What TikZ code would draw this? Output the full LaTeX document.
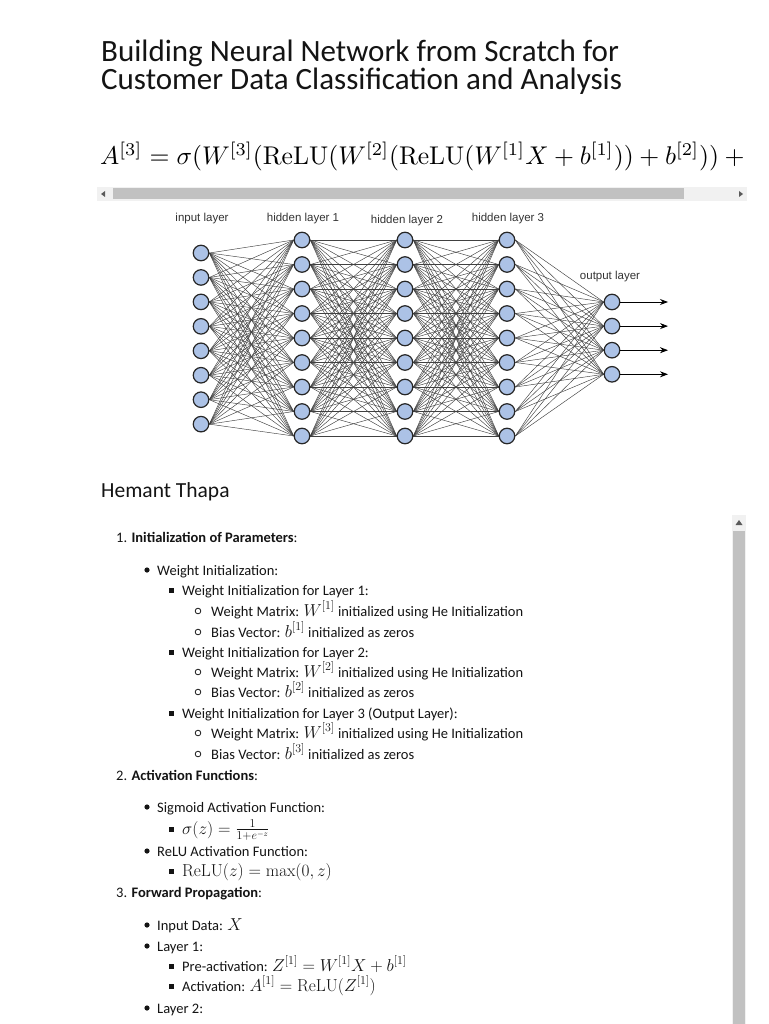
\documentclass[tikz,border=0pt]{standalone}
\usepackage{amsmath}
\usepackage[no-math]{fontspec}
\usepackage{graphicx}
\setmainfont{Carlito}
\newfontfamily\helv{Liberation Sans}
\usetikzlibrary{backgrounds,arrows.meta}
\definecolor{nblue}{RGB}{172,194,230}
\definecolor{txtc}{RGB}{20,20,20}
\definecolor{sbtrack}{RGB}{241,241,241}
\definecolor{sbthumb}{RGB}{193,193,193}
\definecolor{sbarrow}{RGB}{90,90,90}
\newcommand\mm[1]{{\fontsize{16.5}{18}\selectfont$#1$}}
\begin{document}
\begin{tikzpicture}[x=1pt,y=-1pt,
  neuron/.style={circle,draw=black!85,line width=1.2pt,fill=nblue,minimum size=15.5pt,inner sep=0pt},
  edge/.style={draw=black!75,line width=0.45pt},
  outarrow/.style={draw=black,line width=0.9pt,-{Stealth[length=8pt,width=6pt]}},
  lbl/.style={anchor=base,inner sep=0pt,font=\helv\fontsize{11.5}{13}\selectfont,text=black!80},
  title/.style={anchor=base west,inner sep=0pt,font=\fontsize{31}{34}\selectfont,text=txtc},
  txt/.style={anchor=base west,inner sep=0pt,font=\fontsize{14.5}{16}\selectfont,text=txtc},
  dotb/.style={fill=txtc},
  sqb/.style={fill=txtc},
  circb/.style={draw=txtc,line width=0.8pt}]
\useasboundingbox (0,0) rectangle (768,1024);

% title
\node[title] (t1) at (101,61.5) {Building Neural Network from Scratch for};
\node[title] (t2) at (101,90) {Customer Data Classification and Analysis};

% formula
\begin{scope}
\clip (96,120) rectangle (748,182);
\node[anchor=base west,inner sep=0pt] (eq) at (100,165) {\resizebox{650pt}{!}{$A^{[3]} = \sigma(W^{[3]}(\mathrm{ReLU}(W^{[2]}(\mathrm{ReLU}(W^{[1]}X + b^{[1]})) + b^{[2]})) +{}$}};
\end{scope}

% horizontal scrollbar
\fill[sbtrack] (97,187) rectangle (747,201);
\fill[sbthumb] (113,188.5) rectangle (684,199.5);
\fill[sbarrow] (101,194) -- (105,191) -- (105,197) -- cycle;
\fill[sbarrow] (743,194) -- (739,191) -- (739,197) -- cycle;

% network
\foreach \k in {1,...,8} \node[neuron] (i\k) at (201,{253+24.45*(\k-1)}) {};
\foreach \k in {1,...,9} {
  \node[neuron] (a\k) at (302,{240+24.5*(\k-1)}) {};
  \node[neuron] (b\k) at (405,{240+24.5*(\k-1)}) {};
  \node[neuron] (c\k) at (507,{240+24.5*(\k-1)}) {};
}
\foreach \k in {1,...,4} \node[neuron] (o\k) at (612,{302+24.1*(\k-1)}) {};
\begin{scope}[on background layer]
\fill[white] (0,0) rectangle (768,1024);
\foreach \i in {1,...,8} \foreach \j in {1,...,9} \draw[edge] (i\i.east) -- (a\j.west);
\foreach \i in {1,...,9} \foreach \j in {1,...,9} {
  \draw[edge] (a\i.east) -- (b\j.west);
  \draw[edge] (b\i.east) -- (c\j.west);
}
\foreach \i in {1,...,9} \foreach \j in {1,...,4} \draw[edge] (c\i.east) -- (o\j.west);
\end{scope}
\foreach \k in {1,...,4} {
  \coordinate (e\k) at (668,{302+24.1*(\k-1)});
  \draw[outarrow] (o\k.east) -- (e\k);
}
\node[lbl] (l0) at (202,222) {input layer};
\node[lbl] (l1) at (303,222) {hidden layer 1};
\node[lbl] (l2) at (407,223) {hidden layer 2};
\node[lbl] (l3) at (508,222) {hidden layer 3};
\node[lbl] (l4) at (610,279) {output layer};

% author
\node[anchor=base west,inner sep=0pt,font=\fontsize{21.5}{24}\selectfont,text=txtc] (au) at (101,497) {Hemant Thapa};

% vertical scrollbar
\fill[sbtrack] (732,515) rectangle (746,1024);
\fill[sbthumb] (733,531) rectangle (745,1024);
\fill[sbarrow] (739,520) -- (742.5,525) -- (735.5,525) -- cycle;

% list
\node[txt] (s1) at (116,542) {1. \textbf{Initialization of Parameters}:};
\fill[dotb] (147,570) circle (2.6);
\node[txt] (w0) at (157,575) {Weight Initialization:};
\fill[sqb] (169,587.5) rectangle (174,592.5);
\node[txt] (w1) at (182,595) {Weight Initialization for Layer 1:};
\draw[circb] (198,611) circle (2.8);
\node[txt] (w1m) at (211,616) {Weight Matrix: \mm{W^{[1]}} initialized using He Initialization};
\draw[circb] (198,632) circle (2.8);
\node[txt] (w1b) at (211,637) {Bias Vector: \mm{b^{[1]}} initialized as zeros};
\fill[sqb] (169,649.5) rectangle (174,654.5);
\node[txt] (w2) at (182,657) {Weight Initialization for Layer 2:};
\draw[circb] (198,672) circle (2.8);
\node[txt] (w2m) at (211,677) {Weight Matrix: \mm{W^{[2]}} initialized using He Initialization};
\draw[circb] (198,692) circle (2.8);
\node[txt] (w2b) at (211,697) {Bias Vector: \mm{b^{[2]}} initialized as zeros};
\fill[sqb] (169,710.5) rectangle (174,715.5);
\node[txt] (w3) at (182,718) {Weight Initialization for Layer 3 (Output Layer):};
\draw[circb] (198,733) circle (2.8);
\node[txt] (w3m) at (211,738) {Weight Matrix: \mm{W^{[3]}} initialized using He Initialization};
\draw[circb] (198,754) circle (2.8);
\node[txt] (w3b) at (211,759) {Bias Vector: \mm{b^{[3]}} initialized as zeros};

\node[txt] (s2) at (116,780) {2. \textbf{Activation Functions}:};
\fill[dotb] (147,807) circle (2.6);
\node[txt] (sg) at (157,812) {Sigmoid Activation Function:};
\fill[sqb] (169,826.5) rectangle (174,831.5);
\node[txt] (sgf) at (182,834) {\mm{\sigma(z) = \frac{1}{1+e^{-z}}}};
\fill[dotb] (147,851) circle (2.6);
\node[txt] (re) at (157,856) {ReLU Activation Function:};
\fill[sqb] (169,868.5) rectangle (174,873.5);
\node[txt] (ref) at (182,876) {\mm{\mathrm{ReLU}(z) = \max(0, z)}};

\node[txt] (s3) at (116,897) {3. \textbf{Forward Propagation}:};
\fill[dotb] (147,925) circle (2.6);
\node[txt] (in) at (157,930) {Input Data: \mm{X}};
\fill[dotb] (147,946) circle (2.6);
\node[txt] (ly1) at (157,951) {Layer 1:};
\fill[sqb] (169,963.5) rectangle (174,968.5);
\node[txt] (pa) at (182,971) {Pre-activation: \mm{Z^{[1]} = W^{[1]}X + b^{[1]}}};
\fill[sqb] (169,983.5) rectangle (174,988.5);
\node[txt] (ac) at (182,991) {Activation: \mm{A^{[1]} = \mathrm{ReLU}(Z^{[1]})}};
\fill[dotb] (147,1008) circle (2.6);
\node[txt] (ly2) at (157,1013) {Layer 2:};
\end{tikzpicture}
\end{document}
